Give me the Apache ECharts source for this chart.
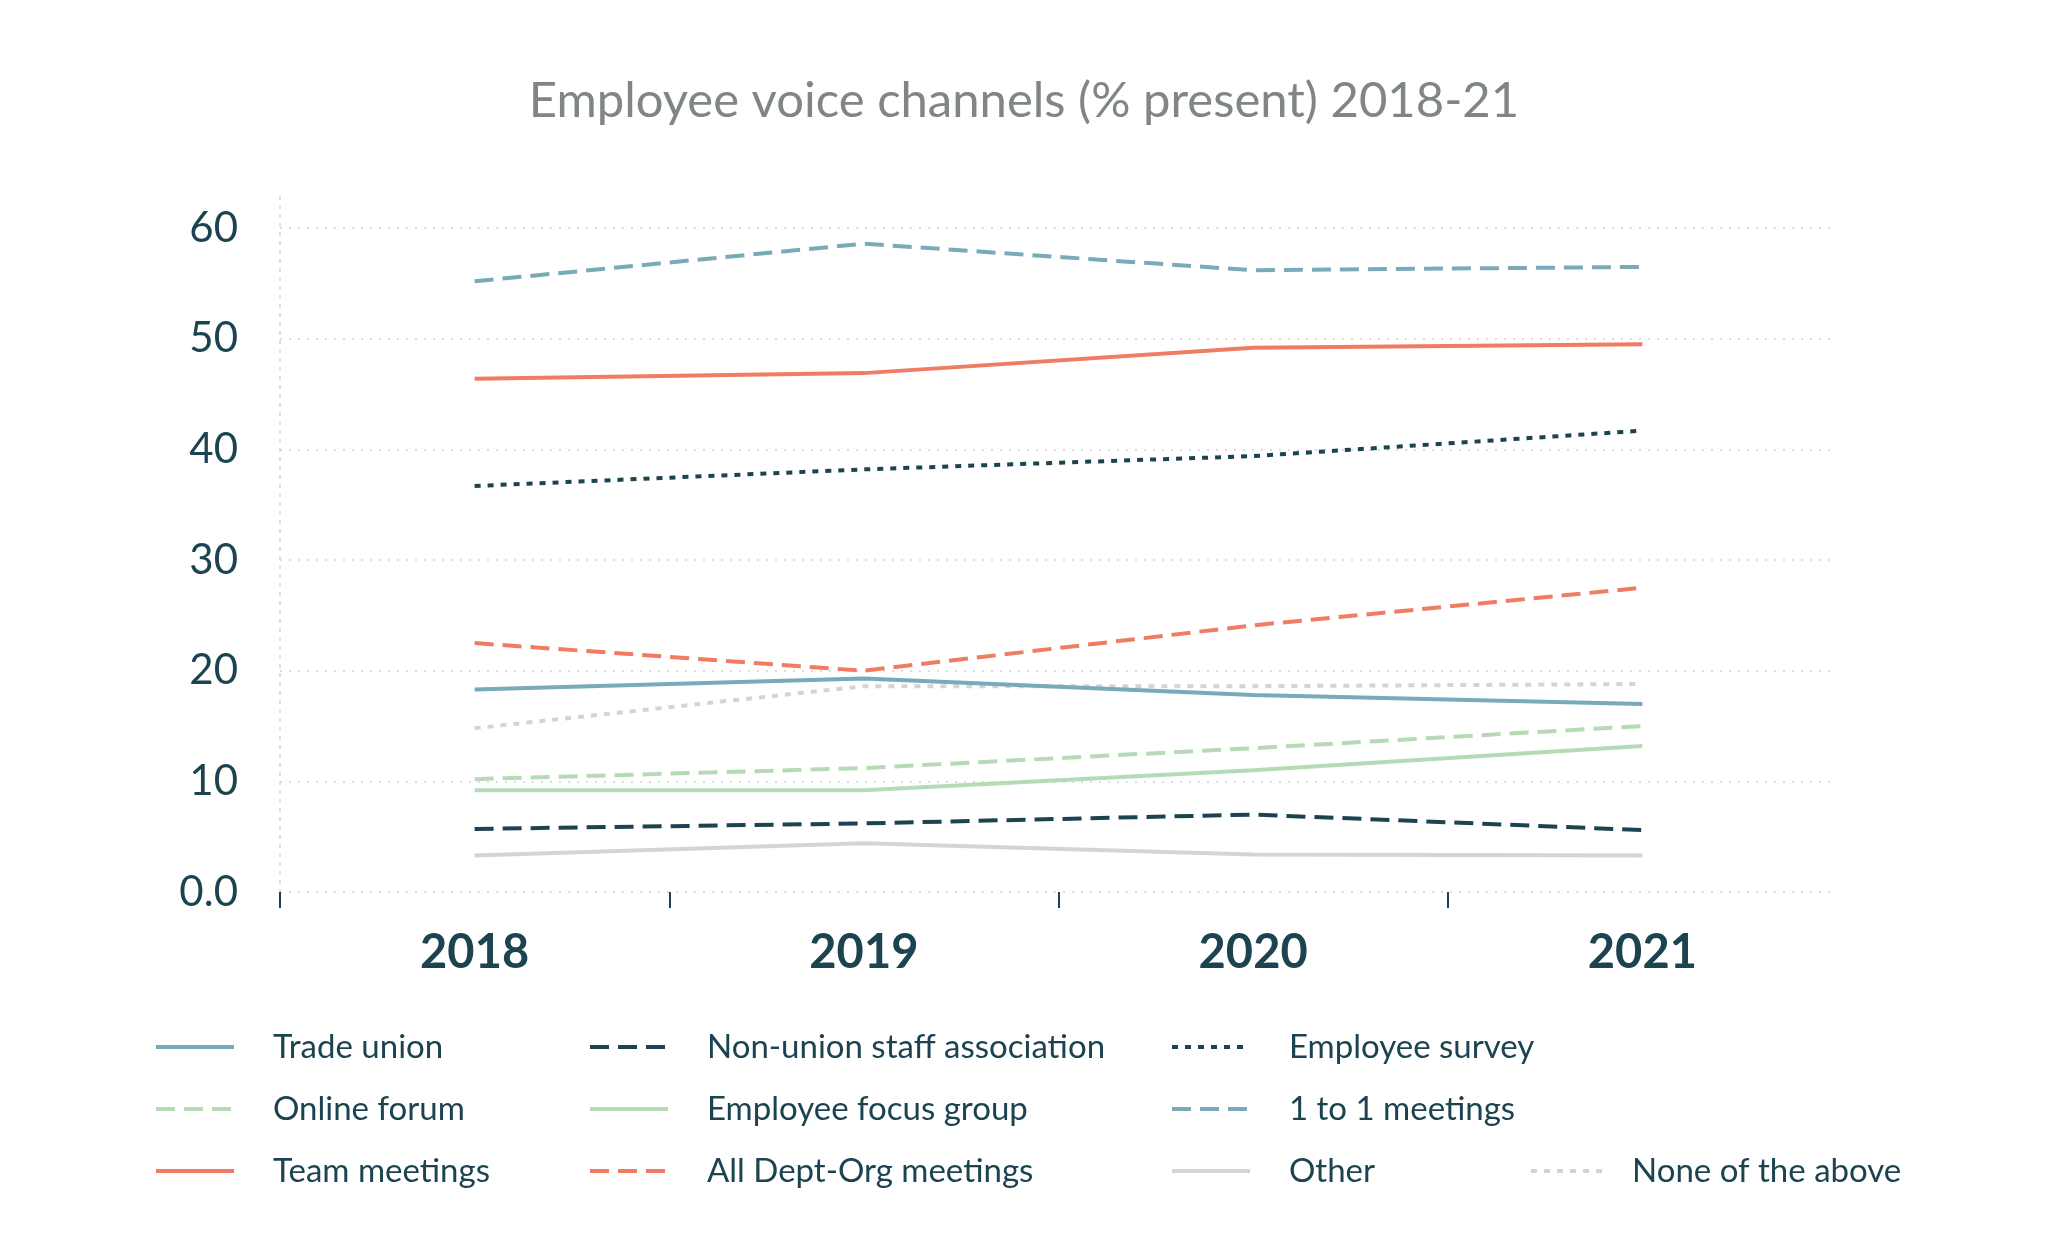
<!DOCTYPE html>
<html>
<head>
<meta charset="utf-8">
<script src="https://cdn.jsdelivr.net/npm/echarts@6/dist/echarts.min.js"></script>
<style>
html,body{margin:0;padding:0;background:#fff;}
#chart{width:2048px;height:1242px;}
</style>
</head>
<body>
<div id="chart"></div>
<script>
var years = ['2018', '2019', '2020', '2021'];
var yTicks = [0, 10, 20, 30, 40, 50, 60];

var tradeUnion     = [18.3, 19.3, 17.8, 17.0];
var nonUnion       = [5.7, 6.2, 7.0, 5.6];
var employeeSurvey = [36.7, 38.2, 39.4, 41.7];
var onlineForum    = [10.2, 11.2, 13.0, 15.0];
var focusGroup     = [9.2, 9.2, 11.0, 13.2];
var oneToOne       = [55.2, 58.6, 56.2, 56.5];
var teamMeetings   = [46.4, 46.9, 49.2, 49.5];
var allDeptOrg     = [22.5, 20.0, 24.1, 27.5];
var otherCh        = [3.3, 4.4, 3.4, 3.3];
var noneAbove      = [14.8, 18.6, 18.6, 18.8];

var C_TEAL = '#78aab8', C_DARK = '#1b4350', C_GREEN = '#b6dab6',
    C_RED = '#ef7c63', C_GREY = '#d4d4d4';
var DASH = [19, 9], DOT = [6, 7];

function mk(name, data, color, type) {
  return {
    name: name, type: 'line', data: data, symbol: 'none', smooth: false,
    xAxisIndex: 0,
    lineStyle: { color: color, width: 4, type: type, cap: 'butt' },
    itemStyle: { color: color }
  };
}

var series = [
  mk('Other', otherCh, C_GREY, 'solid'),
  mk('None of the above', noneAbove, C_GREY, DOT),
  mk('Employee focus group', focusGroup, C_GREEN, 'solid'),
  mk('Online forum', onlineForum, C_GREEN, DASH),
  mk('Non-union staff association', nonUnion, C_DARK, DASH),
  mk('Trade union', tradeUnion, C_TEAL, 'solid'),
  mk('All Dept-Org meetings', allDeptOrg, C_RED, DASH),
  mk('Employee survey', employeeSurvey, C_DARK, DOT),
  mk('Team meetings', teamMeetings, C_RED, 'solid'),
  mk('1 to 1 meetings', oneToOne, C_TEAL, DASH)
];

function legendCol(left, top, names, pad) {
  return {
    orient: 'vertical', left: left, top: top, data: names,
    itemWidth: 78, itemHeight: 14, itemGap: 22,
    selectedMode: false,
    itemStyle: { opacity: 0 },
    lineStyle: { width: 4, type: 'inherit', cap: 'butt' },
    textStyle: { fontFamily: 'Lato', fontSize: 33, color: C_DARK, lineHeight: 40,
                 padding: [0, 0, 0, pad] }
  };
}

var chart = echarts.init(document.getElementById('chart'));
chart.setOption({
  backgroundColor: '#ffffff',
  animation: false,
  title: {
    text: 'Employee voice channels (% present) 2018-21',
    left: 'center', top: 72,
    textStyle: { fontFamily: 'Lato', fontWeight: 'normal', fontSize: 49, color: '#7f8685' }
  },
  legend: [
    legendCol(149, 1022, ['Trade union', 'Online forum', 'Team meetings'], 34),
    legendCol(583, 1022, ['Non-union staff association', 'Employee focus group', 'All Dept-Org meetings'], 34),
    legendCol(1165, 1022, ['Employee survey', '1 to 1 meetings', 'Other'], 34),
    legendCol(1524, 1146, ['None of the above'], 18)
  ],
  grid: { left: 280, right: 211, top: 195, bottom: 350, containLabel: false },
  xAxis: [{
    type: 'category', data: years, boundaryGap: true,
    axisLine: { show: false },
    axisTick: { show: false },
    axisLabel: { margin: 37, fontFamily: 'Lato', fontWeight: 'bold', fontSize: 47, color: C_DARK },
    splitLine: { show: false }
  }, {
    type: 'value', min: 0, max: 4, interval: 1, position: 'bottom',
    axisLine: { show: false },
    axisLabel: { show: false },
    splitLine: { show: false },
    axisTick: { show: true, length: 16, customValues: [0, 1, 2, 3],
                lineStyle: { color: C_DARK, width: 2 } }
  }],
  yAxis: {
    type: 'value', min: 0, max: 63, interval: 10,
    axisLine: { show: true, lineStyle: { color: '#dcdcdc', width: 2, type: [2, 7] } },
    axisTick: { show: false },
    axisLabel: {
      margin: 42, fontFamily: 'Lato', fontSize: 42, color: C_DARK, showMaxLabel: false,
      formatter: function (v) { return yTicks.indexOf(v) < 0 ? '' : (v === 0 ? '0.0' : String(v)); }
    },
    splitLine: { show: true, showMaxLine: false, lineStyle: { color: '#dcdcdc', width: 2, type: [2, 7] } }
  },
  series: series
});
</script>
</body>
</html>
